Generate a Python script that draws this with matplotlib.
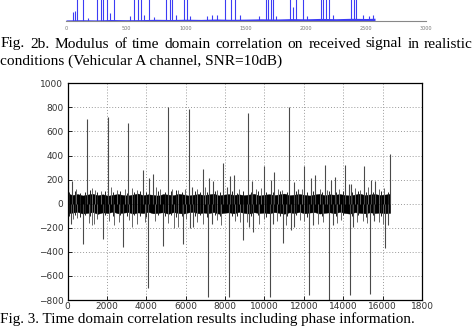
import matplotlib
matplotlib.use('Agg')
import matplotlib.pyplot as plt

# ---- top strip (cropped bottom of Fig. 2b, modulus) ----
top_ticks = [0, 500, 1000, 1500, 2000, 2500, 3000]
top_tall_pos = [94, 145, 257, 290, 312, 341, 401, 569, 596, 625, 689, 836, 864, 884,
                987, 1010, 1323, 1379, 1407, 1664, 1683, 1706, 1725, 1865, 1915, 1971,
                2124, 2143, 2166, 2188, 2375, 2398, 2417]
top_short_pos = [56, 75, 184, 368, 535, 652, 730, 920, 1037, 1176, 1218, 1260, 1446,
                 1608, 1747, 1891, 2012, 2221, 2472, 2525, 2558]
top_short_val = [9, 10, 3, 8, 5, 6, 4, 6, 5, 5, 6, 6, 6, 5, 5, 14, 5, 6, 6, 5, 6]
top_floor_x = [0, 125, 250, 375, 500, 625, 750, 875, 1000, 1125, 1250, 1375, 1500,
               1625, 1750, 1875, 2000, 2125, 2250, 2375, 2500, 2575]
top_floor_y = [0.8, 1.0, 0.8, 1.2, 1.0, 1.1, 1.4, 1.2, 1.5, 1.3, 1.7, 1.4, 1.6,
               1.9, 1.7, 2.1, 1.9, 2.3, 2.0, 2.4, 2.2, 2.5]

# ---- Fig. 3 : time domain correlation incl. phase ----
big_pos_x = [30, 230, 1000, 2050, 3070, 3820, 4160, 4330, 5090, 6150, 6310, 6870, 7200,
             7390, 7920, 8090, 8240, 8440, 9190, 9370, 9990, 10320, 10500, 11270, 11490,
             11725, 12030, 12370, 12560, 13050, 13390, 13570, 14100, 14290, 14400, 15080,
             15420, 15620, 16380]
big_pos_y = [195, 185, 700, 720, 670, 280, 215, 250, 800, 790, 140, 290, 215,
             190, 340, 140, 230, 240, 750, 190, 310, 200, 260, 800, 180,
             126, 315, 215, 235, 325, 195, 225, 325, 165, 160, 310,
             200, 190, 410]
big_neg_x = [160, 770, 1820, 2800, 4075, 4835, 5880, 6220, 6360, 7155, 7340, 8190, 8930,
             9220, 9440, 10270, 10420, 10960, 11350, 11520, 12280, 12490, 13300, 13500,
             14350, 14520, 15370, 15570, 16130, 16290]
big_neg_y = [-165, -335, -290, -362, -703, -355, -333, -200, -195, -778, -166, -776, -305,
             -195, -234, -776, -170, -326, -215, -195, -762, -180, -800, -180,
             -760, -195, -752, -140, -366, -180]
minor_pos_x = [450, 1250, 1400, 1700, 2200, 2500, 2900, 3300, 3550, 4500, 4700, 5300, 5600,
               5950, 6600, 7000, 7600, 8700, 9550, 9800, 10700, 10900, 11900, 12800, 13200,
               13800, 14600, 14850, 15250, 15800, 16050]
minor_pos_y = [120, 130, 110, 105, 140, 115, 125, 130, 115, 135, 120, 125, 110,
               120, 125, 135, 115, 125, 120, 130, 125, 110, 120, 125, 115,
               125, 130, 115, 135, 125, 130]
minor_neg_x = [300, 500, 1100, 1250, 1350, 1500, 2100, 2350, 2600, 3100, 3300, 3550, 3950,
               4450, 5100, 5400, 5600, 6000, 6600, 6900, 7600, 7800, 8500, 8750, 9100,
               9700, 10000, 10650, 11100, 11800, 12000, 12700, 12950, 13700, 13900, 14700,
               15000, 15200, 15800, 16000]
minor_neg_y = [-130, -120, -160, -175, -170, -125, -145, -180, -150, -135, -190, -170, -150,
               -140, -160, -200, -190, -125, -150, -170, -135, -175, -140, -155, -150,
               -165, -125, -145, -175, -135, -140, -165, -150, -160, -135, -155,
               -140, -160, -150, -165]
# short fringe spikes sticking out of the noise band
fringe_x = [100, 380, 620, 880, 1150, 1520, 1880, 2300, 2650, 3000, 3400, 3700, 4000,
            4600, 4950, 5250, 5500, 5800, 6450, 6750, 7100, 7500, 7750, 8350, 8600, 8900,
            9300, 9650, 10100, 10450, 10800, 11150, 11600, 12150, 12450, 12900, 13300,
            13650, 14000, 14450, 14750, 15150, 15500, 15900, 16250]
fringe_hi = [95, 105, 90, 100, 110, 95, 102, 98, 106, 92, 100, 108, 96, 104, 94, 102, 110,
             98, 105, 93, 101, 107, 96, 103, 91, 109, 97, 104, 95, 100, 106, 94, 102, 98,
             105, 93, 107, 99, 102, 96, 108, 94, 101, 105, 98]
fringe_lo = [-100, -92, -108, -96, -104, -110, -94, -102, -98, -106, -95, -103, -109, -97,
             -101, -93, -107, -99, -105, -96, -110, -94, -102, -100, -106, -95, -103, -98,
             -108, -93, -101, -105, -97, -109, -94, -102, -100, -106, -96, -104, -98, -107,
             -95, -103, -100]
band_x = list(range(0, 16385, 256))
band_hi = [85, 72, 80, 68, 76, 82, 70, 78, 66, 74, 80, 72, 68, 76, 84, 70, 78, 73, 67, 80,
           75, 70, 82, 76, 68, 74, 80, 71, 77, 83, 69, 75, 80, 72, 78, 70, 76, 82, 68, 74,
           79, 71, 77, 84, 70, 75, 80, 73, 68, 76, 82, 70, 78, 74, 80, 72, 68, 76, 83, 71,
           77, 80, 72, 76, 82]
band_lo = [-80, -74, -68, -82, -76, -70, -84, -72, -78, -66, -80, -75, -70, -82, -73, -78,
           -68, -80, -76, -71, -84, -70, -77, -82, -72, -68, -80, -74, -78, -70, -83, -76,
           -72, -80, -68, -76, -82, -71, -78, -74, -80, -70, -76, -83, -72, -78, -68, -80,
           -74, -70, -82, -76, -72, -80, -68, -77, -83, -71, -76, -80, -72, -78, -74, -80,
           -76]

x_ticks = [0, 2000, 4000, 6000, 8000, 10000, 12000, 14000, 16000, 18000]
x_labels = ['0', '2000', '4000', '6000', '8000', '10000', '12000', '14000', '16000', '1800']
y_ticks = [-800, -600, -400, -200, 0, 200, 400, 600, 800, 1000]

cap1 = 'Fig. 2b. Modulus of time domain correlation on received signal in realistic'
cap2 = 'conditions (Vehicular A channel, SNR=10dB)'
cap3 = 'Fig. 3. Time domain correlation results including phase information.'

W, H = 474, 328
fig = plt.figure(figsize=(W / 100, H / 100), dpi=100)
serif = 'Liberation Serif'

# top strip
ax0 = fig.add_axes([66 / W, 1 - 20.7 / H, 360 / W, 20.7 / H])
blue = '#3c3cf5'
ax0.fill_between(top_floor_x, 0, top_floor_y, color=blue, lw=0)
ax0.vlines(top_tall_pos, 0, 100, color=blue, lw=0.8)
ax0.vlines(top_short_pos, 0, top_short_val, color=blue, lw=0.8)
ax0.set_xlim(0, 3000)
ax0.set_ylim(0, 20.7)
for s in ['top', 'left', 'right']:
    ax0.spines[s].set_visible(False)
ax0.spines['bottom'].set_color('#888888')
ax0.spines['bottom'].set_linewidth(0.8)
ax0.set_xticks(top_ticks)
ax0.set_xticklabels([str(t) for t in top_ticks], fontsize=3.5, color='#777777')
ax0.set_yticks([])
ax0.tick_params(axis='x', length=0, pad=4)
ax0.patch.set_alpha(0)

# main axes
ax = fig.add_axes([67.5 / W, 1 - 300 / H, 354.5 / W, 216.7 / H])
ax.fill_between(band_x, band_lo, band_hi, color='black', lw=0.3, edgecolor='black')
ax.vlines(fringe_x, 0, fringe_hi, color='#222222', lw=0.7)
ax.vlines(fringe_x, 0, fringe_lo, color='#222222', lw=0.7)
ax.vlines(minor_pos_x, 0, minor_pos_y, color='#666666', lw=0.7)
ax.vlines(minor_neg_x, 0, minor_neg_y, color='#666666', lw=0.7)
ax.vlines(big_pos_x, 0, big_pos_y, color='#4a4a4a', lw=0.8)
ax.vlines(big_neg_x, 0, big_neg_y, color='#4a4a4a', lw=0.8)
ax.set_xlim(0, 18000)
ax.set_ylim(-800, 1000)
ax.set_xticks(x_ticks)
ax.set_xticklabels(x_labels)
ax.set_yticks(y_ticks)
ax.grid(True, color='#9a9a9a', linestyle=(0, (1, 2)), lw=0.7)
ax.set_axisbelow(True)
ax.tick_params(direction='in', length=3, width=0.6, labelsize=6.5,
               labelcolor='#333333')
ax.tick_params(axis='x', pad=1.5)
ax.tick_params(axis='y', pad=3)
for s in ax.spines.values():
    s.set_linewidth(0.9)

# captions
fig.canvas.draw()
r = fig.canvas.get_renderer()


def text_w(s, size):
    t = fig.text(0, 0, s, family=serif, fontsize=size)
    w = t.get_window_extent(r).width
    t.remove()
    return w


size2 = 9.0 * 282 / text_w(cap2, 9.0)
fig.text(0.5 / W, 1 - 64.5 / H, cap2, family=serif, fontsize=size2, va='baseline')

# justified first line
words = cap1.split()
widths = [text_w(w, size2) for w in words]
gap = (473 - 1 - sum(widths)) / (len(words) - 1)
xp = 1.0
for w, wd in zip(words, widths):
    fig.text(xp / W, 1 - 47.5 / H, w, family=serif, fontsize=size2, va='baseline')
    xp += wd + gap

size3 = 10.0 * 415 / text_w(cap3, 10.0)
fig.text(0.5 / W, 1 - 323.5 / H, cap3, family=serif, fontsize=size3, va='baseline')

fig.savefig('out.png', dpi=100)
